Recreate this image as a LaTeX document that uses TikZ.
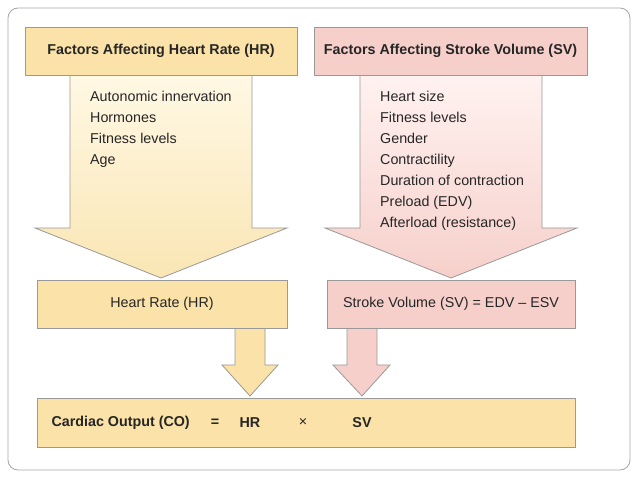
\documentclass[tikz,border=0pt]{standalone}
\usepackage{fontspec}
\setmainfont{Liberation Sans}
\begin{document}
\begin{tikzpicture}[x=1pt,y=-1pt,
  box/.style={draw=black!40,line width=0.8pt},
  yfill/.style={fill={rgb,255:red,250;green,226;blue,168}},
  pfill/.style={fill={rgb,255:red,246;green,207;blue,203}},
  yarrow/.style={draw=black!40,line width=0.8pt,top color={rgb,255:red,255;green,248;blue,228},bottom color={rgb,255:red,250;green,230;blue,180}},
  parrow/.style={draw=black!40,line width=0.8pt,top color={rgb,255:red,255;green,242;blue,240},bottom color={rgb,255:red,246;green,208;blue,203}},
  lbl/.style={font=\fontsize{14.3}{21}\selectfont,text=black!85},
  hdr/.style={font=\fontsize{14.3}{21}\selectfont\bfseries,text=black!85}]
\useasboundingbox (0,0) rectangle (638,478);
\draw[rounded corners=10pt,draw=black!35,line width=0.8pt] (8,8) rectangle (630,470);
% big arrows
\draw[yarrow] (70,75) -- (252,75) -- (252,228) -- (287,228) -- (161,278) -- (35,228) -- (70,228) -- cycle;
\draw[parrow] (360,75) -- (542,75) -- (542,228) -- (577,228) -- (451,278) -- (325,228) -- (360,228) -- cycle;
% small arrows
\draw[box,yfill] (235,328) -- (265,328) -- (265,365) -- (278,365) -- (250,396) -- (222,365) -- (235,365) -- cycle;
\draw[box,pfill] (347,328) -- (377,328) -- (377,365) -- (390,365) -- (362,396) -- (333,365) -- (347,365) -- cycle;
% header boxes
\node[box,yfill,minimum width=272pt,minimum height=48pt,hdr] (hrh) at (161,51) {Factors Affecting Heart Rate (HR)};
\node[box,pfill,minimum width=273pt,minimum height=48pt,hdr] (svh) at (450.5,51) {Factors Affecting Stroke Volume (SV)};
\node[lbl,align=left,anchor=north west,inner sep=0pt] (hrl) at (90,91) {Autonomic innervation\\Hormones\\Fitness levels\\Age};
\node[lbl,align=left,anchor=north west,inner sep=0pt] (svl) at (380,91) {Heart size\\Fitness levels\\Gender\\Contractility\\Duration of contraction\\Preload (EDV)\\Afterload (resistance)};
\node[box,yfill,minimum width=250pt,minimum height=48pt,lbl] (hr) at (162,304) {Heart Rate (HR)};
\node[box,pfill,minimum width=248pt,minimum height=48pt,lbl] (sv) at (451,304) {Stroke Volume (SV) = EDV -- ESV};
\node[box,yfill,minimum width=538pt,minimum height=49pt] (co) at (306,422.5) {};
\node[hdr,anchor=west] (cot) at (48,422.5) {Cardiac Output (CO)};
\node[hdr] (eq) at (215,422.5) {=};
\node[hdr] (hrt) at (250,422.5) {HR};
\node[lbl] (x) at (303,422.5) {×};
\node[hdr] (svt) at (362,422.5) {SV};
\end{tikzpicture}
\end{document}
